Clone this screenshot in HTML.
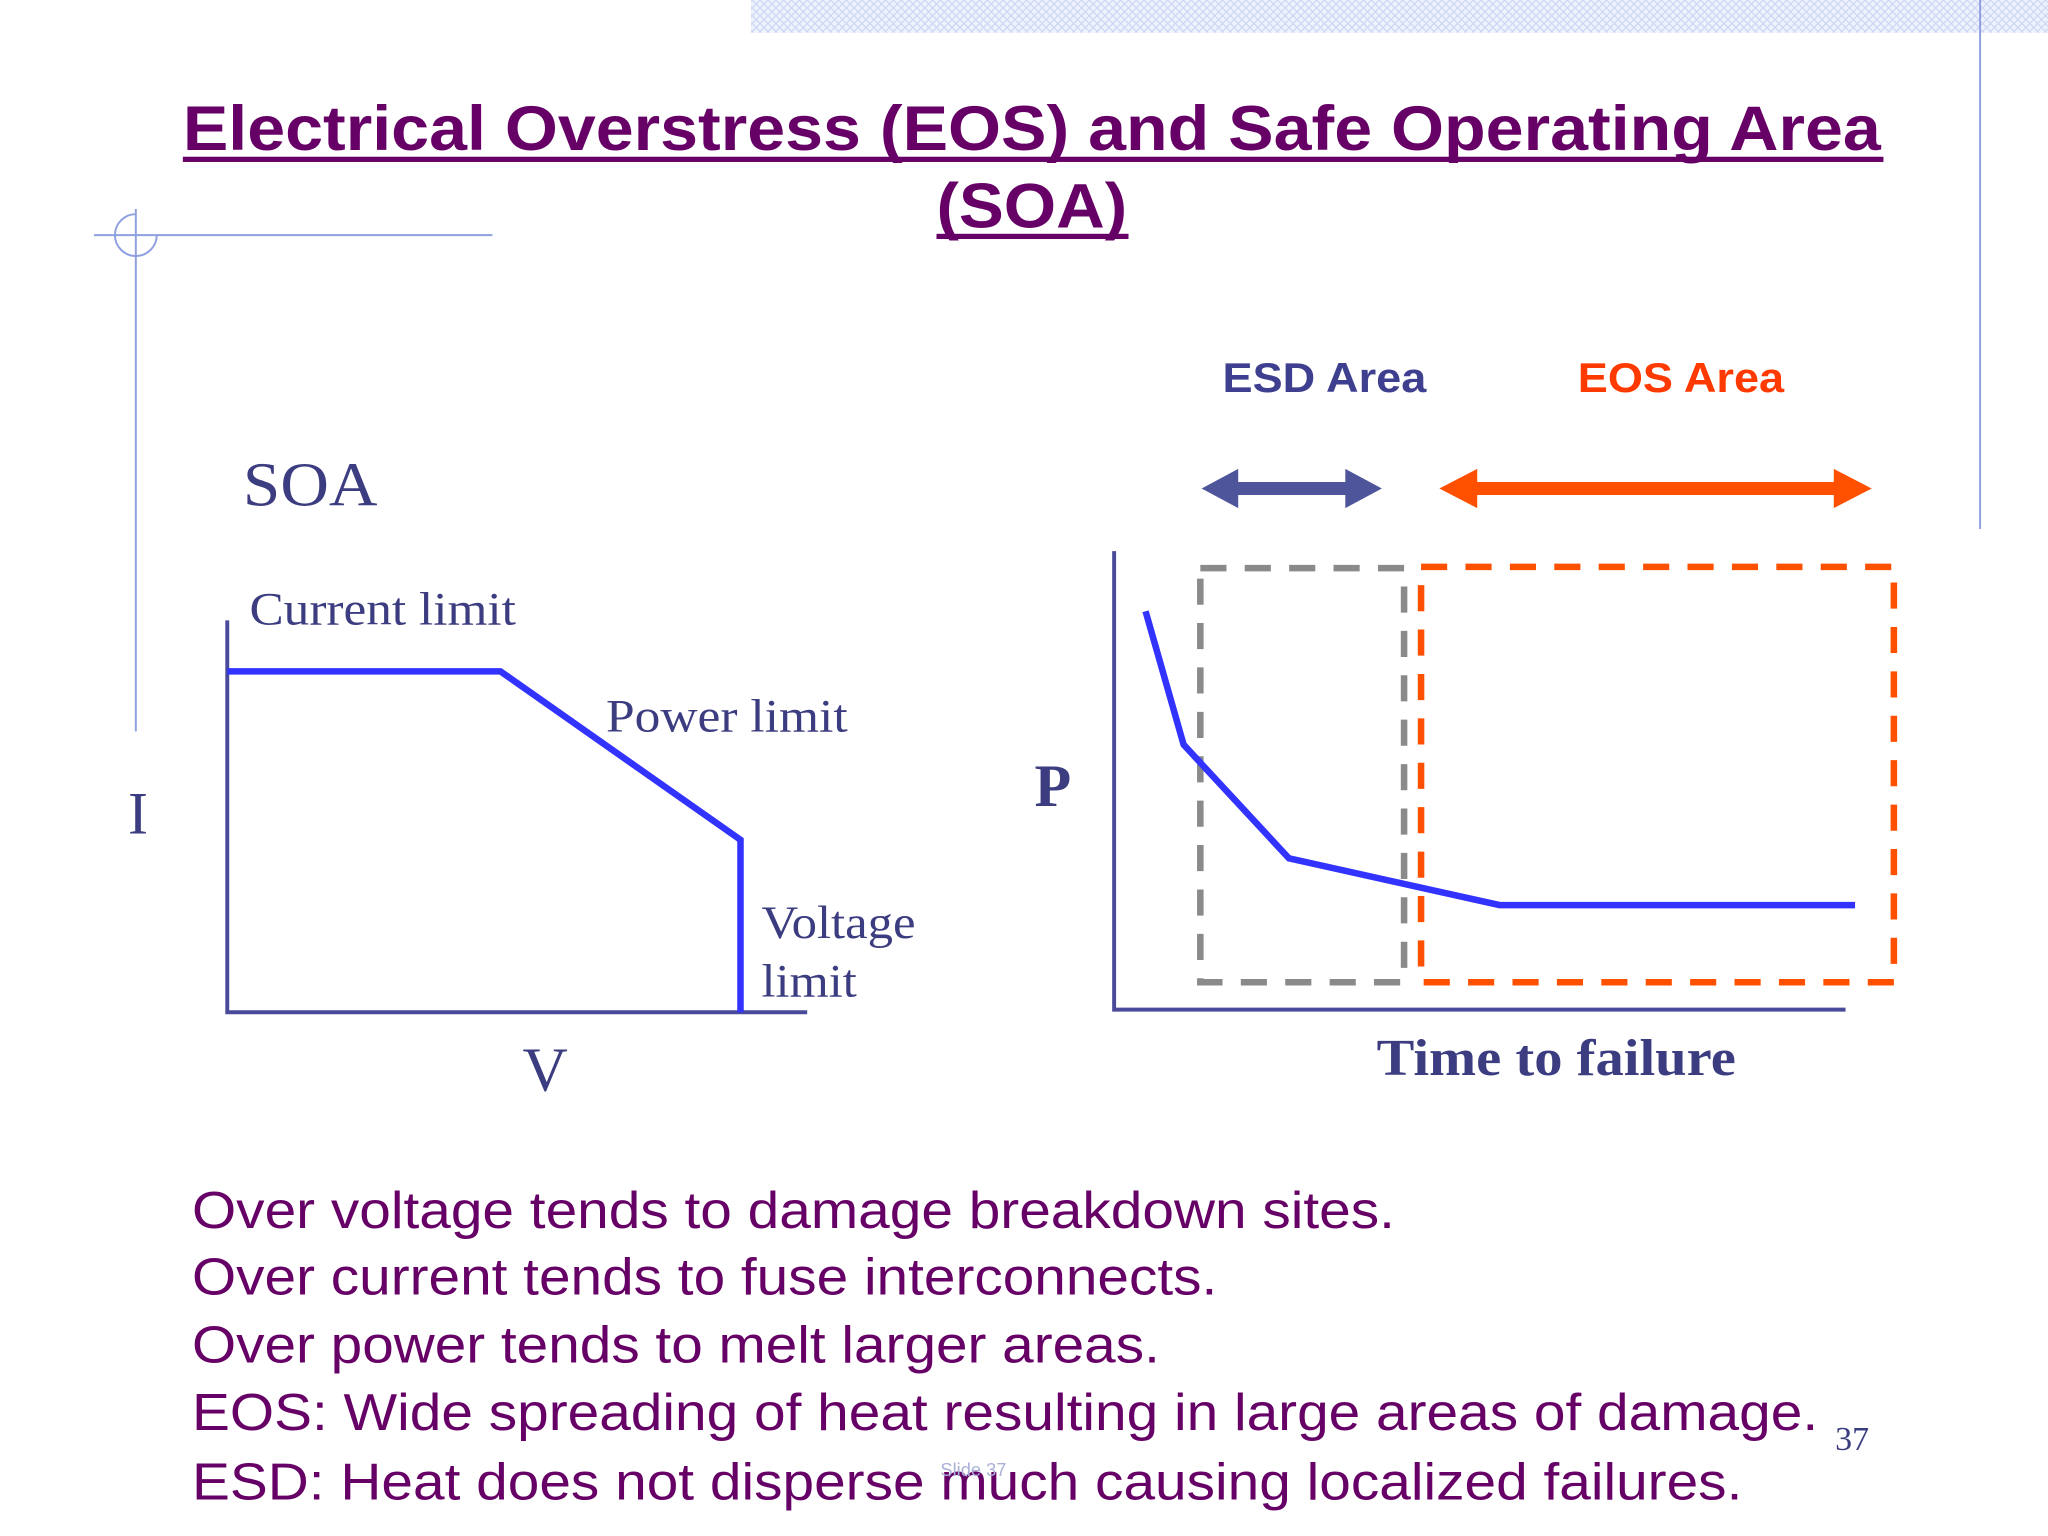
<!DOCTYPE html>
<html><head><meta charset="utf-8"><style>html,body{margin:0;padding:0;background:#fff}svg{display:block}</style></head>
<body>
<svg id="slide" width="2048" height="1536" viewBox="0 0 1568 1176" preserveAspectRatio="none" xmlns="http://www.w3.org/2000/svg">
<defs>
<pattern id="hatch" width="6" height="6" patternUnits="userSpaceOnUse"><rect width="6" height="6" fill="#eef2fc"/><path d="M0 0L6 6M6 0L0 6" stroke="#c9d3f2" stroke-width="0.8"/></pattern>
</defs>
<rect x="575" y="0" width="993" height="25" fill="url(#hatch)"/>
<line x1="1516" y1="0" x2="1516" y2="405" stroke="#8fa0e0" stroke-width="1.5"/>
<g stroke="#8fa0e0" stroke-width="1.5" fill="none">
<line x1="72" y1="180" x2="377" y2="180"/><line x1="104" y1="160" x2="104" y2="560"/>
<path d="M104 164 A16 16 0 0 0 104 196 A16 16 0 0 0 120 180"/>
</g>
<g font-family="Liberation Sans, sans-serif" font-weight="bold" font-size="48" fill="#660066" text-anchor="middle">
<text x="790" y="115" textLength="1300" lengthAdjust="spacingAndGlyphs">Electrical Overstress (EOS) and Safe Operating Area</text>
<rect x="140" y="120" width="1302" height="4"/>
<text x="790" y="174" textLength="146" lengthAdjust="spacingAndGlyphs">(SOA)</text>
<rect x="717" y="179" width="147" height="4"/>
</g>
<text x="186" y="387" font-family="Liberation Serif, serif" font-size="48" fill="#3c3c80" textLength="103" lengthAdjust="spacingAndGlyphs">SOA</text>
<g id="left"></g>
<g font-family="Liberation Serif, serif" font-size="36" fill="#3c3c80">
<text x="191" y="478" textLength="204" lengthAdjust="spacingAndGlyphs">Current limit</text>
<text x="464" y="560" textLength="185" lengthAdjust="spacingAndGlyphs">Power limit</text>
<text x="583" y="718" textLength="118" lengthAdjust="spacingAndGlyphs">Voltage</text>
<text x="583" y="763" textLength="73" lengthAdjust="spacingAndGlyphs">limit</text>
<text x="98" y="638" font-size="46">I</text>
<text x="400" y="835" font-size="48">V</text>
</g>
<g fill="#4f559a"><polygon points="920,374 948,359 948,369 1030,369 1030,359 1058,374 1030,389 1030,379 948,379 948,389"/></g>
<g fill="#ff5000"><polygon points="1102,374 1131,359 1131,369 1404,369 1404,359 1433,374 1404,389 1404,379 1131,379 1131,389"/></g>
<g font-family="Liberation Sans, sans-serif" font-weight="bold" font-size="32">
<text x="936" y="300" fill="#3f3f8f" textLength="156" lengthAdjust="spacingAndGlyphs">ESD Area</text>
<text x="1208" y="300" fill="#ff3a00" textLength="158" lengthAdjust="spacingAndGlyphs">EOS Area</text>
</g>
<rect x="919" y="435" width="156" height="317" fill="none" stroke="#8a8a8a" stroke-width="5" stroke-dasharray="20 14"/>
<rect x="1088" y="434" width="362" height="318" fill="none" stroke="#ff5000" stroke-width="5" stroke-dasharray="20 14"/>
<g id="right"></g>
<g font-family="Liberation Serif, serif" font-weight="bold" fill="#3c3c80">
<text x="792" y="617" font-size="46">P</text>
<text x="1054" y="823" font-size="40" textLength="275" lengthAdjust="spacingAndGlyphs">Time to failure</text>
</g>
<g font-family="Liberation Sans, sans-serif" font-size="40" fill="#660066" lengthAdjust="spacingAndGlyphs">
<text x="147" y="940" textLength="921" lengthAdjust="spacingAndGlyphs">Over voltage tends to damage breakdown sites.</text>
<text x="147" y="991" textLength="785" lengthAdjust="spacingAndGlyphs">Over current tends to fuse interconnects.</text>
<text x="147" y="1043" textLength="741" lengthAdjust="spacingAndGlyphs">Over power tends to melt larger areas.</text>
<text x="147" y="1095" textLength="1245" lengthAdjust="spacingAndGlyphs">EOS: Wide spreading of heat resulting in large areas of damage.</text>
<text x="147" y="1148" textLength="1187" lengthAdjust="spacingAndGlyphs">ESD: Heat does not disperse much causing localized failures.</text>
</g>
<text x="720" y="1130" font-family="Liberation Sans, sans-serif" font-size="14" fill="#aab0d8">Slide 37</text>
<text x="1405" y="1110" font-family="Liberation Serif, serif" font-size="26" fill="#3c3c80">37</text>
</svg>
<script>
var soaV = [0, 4.71, 8.85, 8.85];
var soaI = [8.7, 8.7, 4.4, 0];
var ptT = [0.43, 0.95, 2.39, 5.27, 10.13];
var ptP = [8.69, 5.78, 3.30, 2.28, 2.28];
var NS = 'http://www.w3.org/2000/svg';
function lx(v){return 174 + v*44.4;}
function ly(i){return 775 - i*30;}
function rx(t){return 853 + t*56;}
function ry(p){return 773 - p*35.1;}
function mkPath(d, stroke, w, parent){
  var e = document.createElementNS(NS, 'path');
  e.setAttribute('d', d);
  e.setAttribute('fill', 'none');
  e.setAttribute('stroke', stroke);
  e.setAttribute('stroke-width', w);
  parent.appendChild(e);
  return e;
}
var L = document.getElementById('left');
var a1 = mkPath('M'+lx(0)+' '+ly(10)+' L'+lx(0)+' '+ly(0)+' L'+lx(10)+' '+ly(0), '#4a4a9a', 3, L);


var d = '';
for (var i = 0; i < soaV.length; i++) d += (i ? 'L' : 'M') + lx(soaV[i]) + ' ' + ly(soaI[i]) + ' ';
var s1 = mkPath(d, '#3333ff', 5, L);


var R = document.getElementById('right');
var a2 = mkPath('M'+rx(0)+' '+ry(10)+' L'+rx(0)+' '+ry(0)+' L'+rx(10)+' '+ry(0), '#4a4a9a', 3, R);


d = '';
for (var j = 0; j < ptT.length; j++) d += (j ? 'L' : 'M') + rx(ptT[j]) + ' ' + ry(ptP[j]) + ' ';
var s2 = mkPath(d, '#3333ff', 5, R);


</script>
</body></html>
